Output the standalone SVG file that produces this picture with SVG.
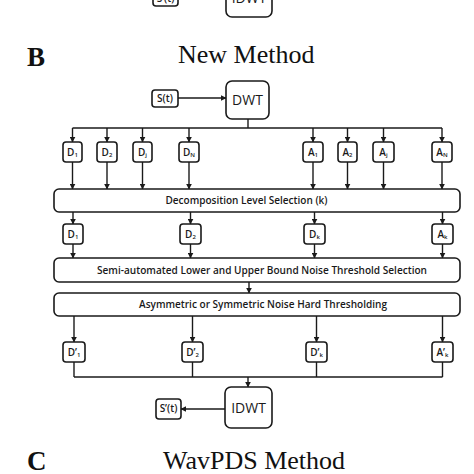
<svg xmlns="http://www.w3.org/2000/svg" width="474" height="474" viewBox="0 0 474 474">
<defs>
<marker id="ah" viewBox="0 0 10 10" refX="9" refY="5" markerWidth="6" markerHeight="6" markerUnits="userSpaceOnUse" orient="auto">
<path d="M0,0 L10,5 L0,10 z" fill="#1a1a1a"/>
</marker>
<style>
.bx{fill:#fff;stroke:#1a1a1a;stroke-width:1.6}
.ln{fill:none;stroke:#1a1a1a;stroke-width:1.4}
.ar{fill:none;stroke:#1a1a1a;stroke-width:1.4;marker-end:url(#ah)}
.lb{font-family:"Open Sans","Liberation Sans",sans-serif;font-size:10px;font-weight:600;fill:#1a1a1a;text-anchor:middle}
.sb{font-size:6px}
.big{font-family:"Open Sans","Liberation Sans",sans-serif;font-size:14px;fill:#1a1a1a;text-anchor:middle}
.ttl{font-family:"Liberation Serif","Times New Roman",serif;font-size:26px;fill:#111}
.let{font-family:"Liberation Serif","Times New Roman",serif;font-size:27px;font-weight:bold;fill:#111}
</style>
</defs>
<rect width="474" height="474" fill="#fff"/>

<!-- cut-off remnants of previous panel -->
<g id="prev-s">
<rect class="bx" x="153" y="-14" width="25" height="20" rx="3"/>
<text class="lb" x="165.5" y="2" font-size="8px">S’(t)</text>
</g>
<g id="prev-idwt">
<rect class="bx" x="226" y="-24" width="46" height="41" rx="6"/>
<text class="big" x="249" y="3">IDWT</text>
</g>

<text class="let" x="27" y="66">B</text>
<text class="ttl" x="178" y="63">New Method</text>

<g id="connectors">
<line class="ar" x1="178" y1="98" x2="226" y2="98"/>
<line class="ln" x1="248" y1="119" x2="248" y2="128"/>
<line class="ln" x1="72.5" y1="128" x2="442" y2="128"/>
<line class="ar" x1="72.5" y1="128" x2="72.5" y2="142"/>
<line class="ar" x1="107" y1="128" x2="107" y2="142"/>
<line class="ar" x1="142.5" y1="128" x2="142.5" y2="142"/>
<line class="ar" x1="189" y1="128" x2="189" y2="142"/>
<line class="ar" x1="313" y1="128" x2="313" y2="142"/>
<line class="ar" x1="347.5" y1="128" x2="347.5" y2="142"/>
<line class="ar" x1="383.5" y1="128" x2="383.5" y2="142"/>
<line class="ar" x1="442" y1="128" x2="442" y2="142"/>
<line class="ar" x1="72.5" y1="162" x2="72.5" y2="189"/>
<line class="ar" x1="107" y1="162" x2="107" y2="189"/>
<line class="ar" x1="142.5" y1="162" x2="142.5" y2="189"/>
<line class="ar" x1="189" y1="162" x2="189" y2="189"/>
<line class="ar" x1="313" y1="162" x2="313" y2="189"/>
<line class="ar" x1="347.5" y1="162" x2="347.5" y2="189"/>
<line class="ar" x1="383.5" y1="162" x2="383.5" y2="189"/>
<line class="ar" x1="442" y1="162" x2="442" y2="189"/>
<line class="ar" x1="73" y1="212" x2="73" y2="224"/>
<line class="ar" x1="190.5" y1="212" x2="190.5" y2="224"/>
<line class="ar" x1="314.5" y1="212" x2="314.5" y2="224"/>
<line class="ar" x1="442.5" y1="212" x2="442.5" y2="224"/>
<line class="ar" x1="73" y1="244" x2="73" y2="258"/>
<line class="ar" x1="190.5" y1="244" x2="190.5" y2="258"/>
<line class="ar" x1="314.5" y1="244" x2="314.5" y2="258"/>
<line class="ar" x1="442.5" y1="244" x2="442.5" y2="258"/>
<line class="ar" x1="249" y1="282" x2="249" y2="293"/>
<line class="ar" x1="74" y1="316" x2="74" y2="342"/>
<line class="ar" x1="192.5" y1="316" x2="192.5" y2="342"/>
<line class="ar" x1="316.5" y1="316" x2="316.5" y2="342"/>
<line class="ar" x1="442.5" y1="316" x2="442.5" y2="342"/>
<line class="ln" x1="74" y1="362" x2="74" y2="377"/>
<line class="ln" x1="192.5" y1="362" x2="192.5" y2="377"/>
<line class="ln" x1="316.5" y1="362" x2="316.5" y2="377"/>
<line class="ln" x1="442.5" y1="362" x2="442.5" y2="377"/>
<line class="ln" x1="74" y1="377" x2="442.5" y2="377"/>
<line class="ar" x1="248" y1="377" x2="248" y2="387"/>
<line class="ar" x1="225" y1="409" x2="181" y2="409"/>
</g>

<g id="s-t"><rect class="bx" x="152" y="90" width="26" height="17" rx="3"/><text class="lb" x="165" y="101.5" font-size="8.5px">S(t)</text></g>
<g id="dwt"><rect class="bx" x="226" y="81" width="43" height="38" rx="6"/><text class="big" x="247.5" y="105">DWT</text></g>

<g id="d1"><rect class="bx" x="63" y="142" width="19" height="20" rx="3"/><text class="lb" x="72.5" y="155.5">D<tspan class="sb" dy="1.5">1</tspan></text></g>
<g id="d2"><rect class="bx" x="97" y="142" width="20" height="20" rx="3"/><text class="lb" x="107" y="155.5">D<tspan class="sb" dy="1.5">2</tspan></text></g>
<g id="dj"><rect class="bx" x="133" y="142" width="19" height="20" rx="3"/><text class="lb" x="142.5" y="155.5">D<tspan class="sb" dy="1.5">j</tspan></text></g>
<g id="dn"><rect class="bx" x="179" y="142" width="20" height="20" rx="3"/><text class="lb" x="189" y="155.5">D<tspan class="sb" dy="1.5">N</tspan></text></g>
<g id="a1"><rect class="bx" x="303" y="142" width="20" height="20" rx="3"/><text class="lb" x="313" y="155.5">A<tspan class="sb" dy="1.5">1</tspan></text></g>
<g id="a2"><rect class="bx" x="338" y="142" width="19" height="20" rx="3"/><text class="lb" x="347.5" y="155.5">A<tspan class="sb" dy="1.5">2</tspan></text></g>
<g id="aj"><rect class="bx" x="373" y="142" width="21" height="20" rx="3"/><text class="lb" x="383.5" y="155.5">A<tspan class="sb" dy="1.5">j</tspan></text></g>
<g id="an"><rect class="bx" x="432" y="142" width="20" height="20" rx="3"/><text class="lb" x="442" y="155.5">A<tspan class="sb" dy="1.5">N</tspan></text></g>

<g id="decomp"><rect class="bx" x="54" y="189" width="406" height="23" rx="5"/><text class="lb" x="246.5" y="204" textLength="162" lengthAdjust="spacingAndGlyphs">Decomposition Level Selection (k)</text></g>

<g id="d1b"><rect class="bx" x="63" y="224" width="20" height="20" rx="3"/><text class="lb" x="73" y="237.5">D<tspan class="sb" dy="1.5">1</tspan></text></g>
<g id="d2b"><rect class="bx" x="180" y="224" width="21" height="20" rx="3"/><text class="lb" x="190.5" y="237.5">D<tspan class="sb" dy="1.5">2</tspan></text></g>
<g id="dk"><rect class="bx" x="304" y="224" width="21" height="20" rx="3"/><text class="lb" x="314.5" y="237.5">D<tspan class="sb" dy="1.5">k</tspan></text></g>
<g id="ak"><rect class="bx" x="432" y="224" width="21" height="20" rx="3"/><text class="lb" x="442.5" y="237.5">A<tspan class="sb" dy="1.5">k</tspan></text></g>

<g id="semi"><rect class="bx" x="54" y="258" width="406" height="24" rx="5"/><text class="lb" x="262" y="273.5" textLength="330" lengthAdjust="spacingAndGlyphs">Semi-automated Lower and Upper Bound Noise Threshold Selection</text></g>

<g id="asym"><rect class="bx" x="54" y="293" width="406" height="23" rx="5"/><text class="lb" x="263" y="308" textLength="248" lengthAdjust="spacingAndGlyphs">Asymmetric or Symmetric Noise Hard Thresholding</text></g>

<g id="dp1"><rect class="bx" x="63" y="342" width="22" height="20" rx="3"/><text class="lb" x="74" y="355.5">D’<tspan class="sb" dy="1.5">1</tspan></text></g>
<g id="dp2"><rect class="bx" x="182" y="342" width="21" height="20" rx="3"/><text class="lb" x="192.5" y="355.5">D’<tspan class="sb" dy="1.5">2</tspan></text></g>
<g id="dpk"><rect class="bx" x="306" y="342" width="21" height="20" rx="3"/><text class="lb" x="316.5" y="355.5">D’<tspan class="sb" dy="1.5">k</tspan></text></g>
<g id="apk"><rect class="bx" x="432" y="342" width="21" height="20" rx="3"/><text class="lb" x="442.5" y="355.5">A’<tspan class="sb" dy="1.5">k</tspan></text></g>

<g id="idwt"><rect class="bx" x="225" y="387" width="47" height="41" rx="6"/><text class="big" x="248.5" y="412.5">IDWT</text></g>
<g id="sp-t"><rect class="bx" x="156" y="399" width="25" height="20" rx="3"/><text class="lb" x="168.5" y="412" font-size="8.5px">S’(t)</text></g>

<text class="let" x="27" y="470">C</text>
<text class="ttl" x="163" y="469">WavPDS Method</text>
</svg>
